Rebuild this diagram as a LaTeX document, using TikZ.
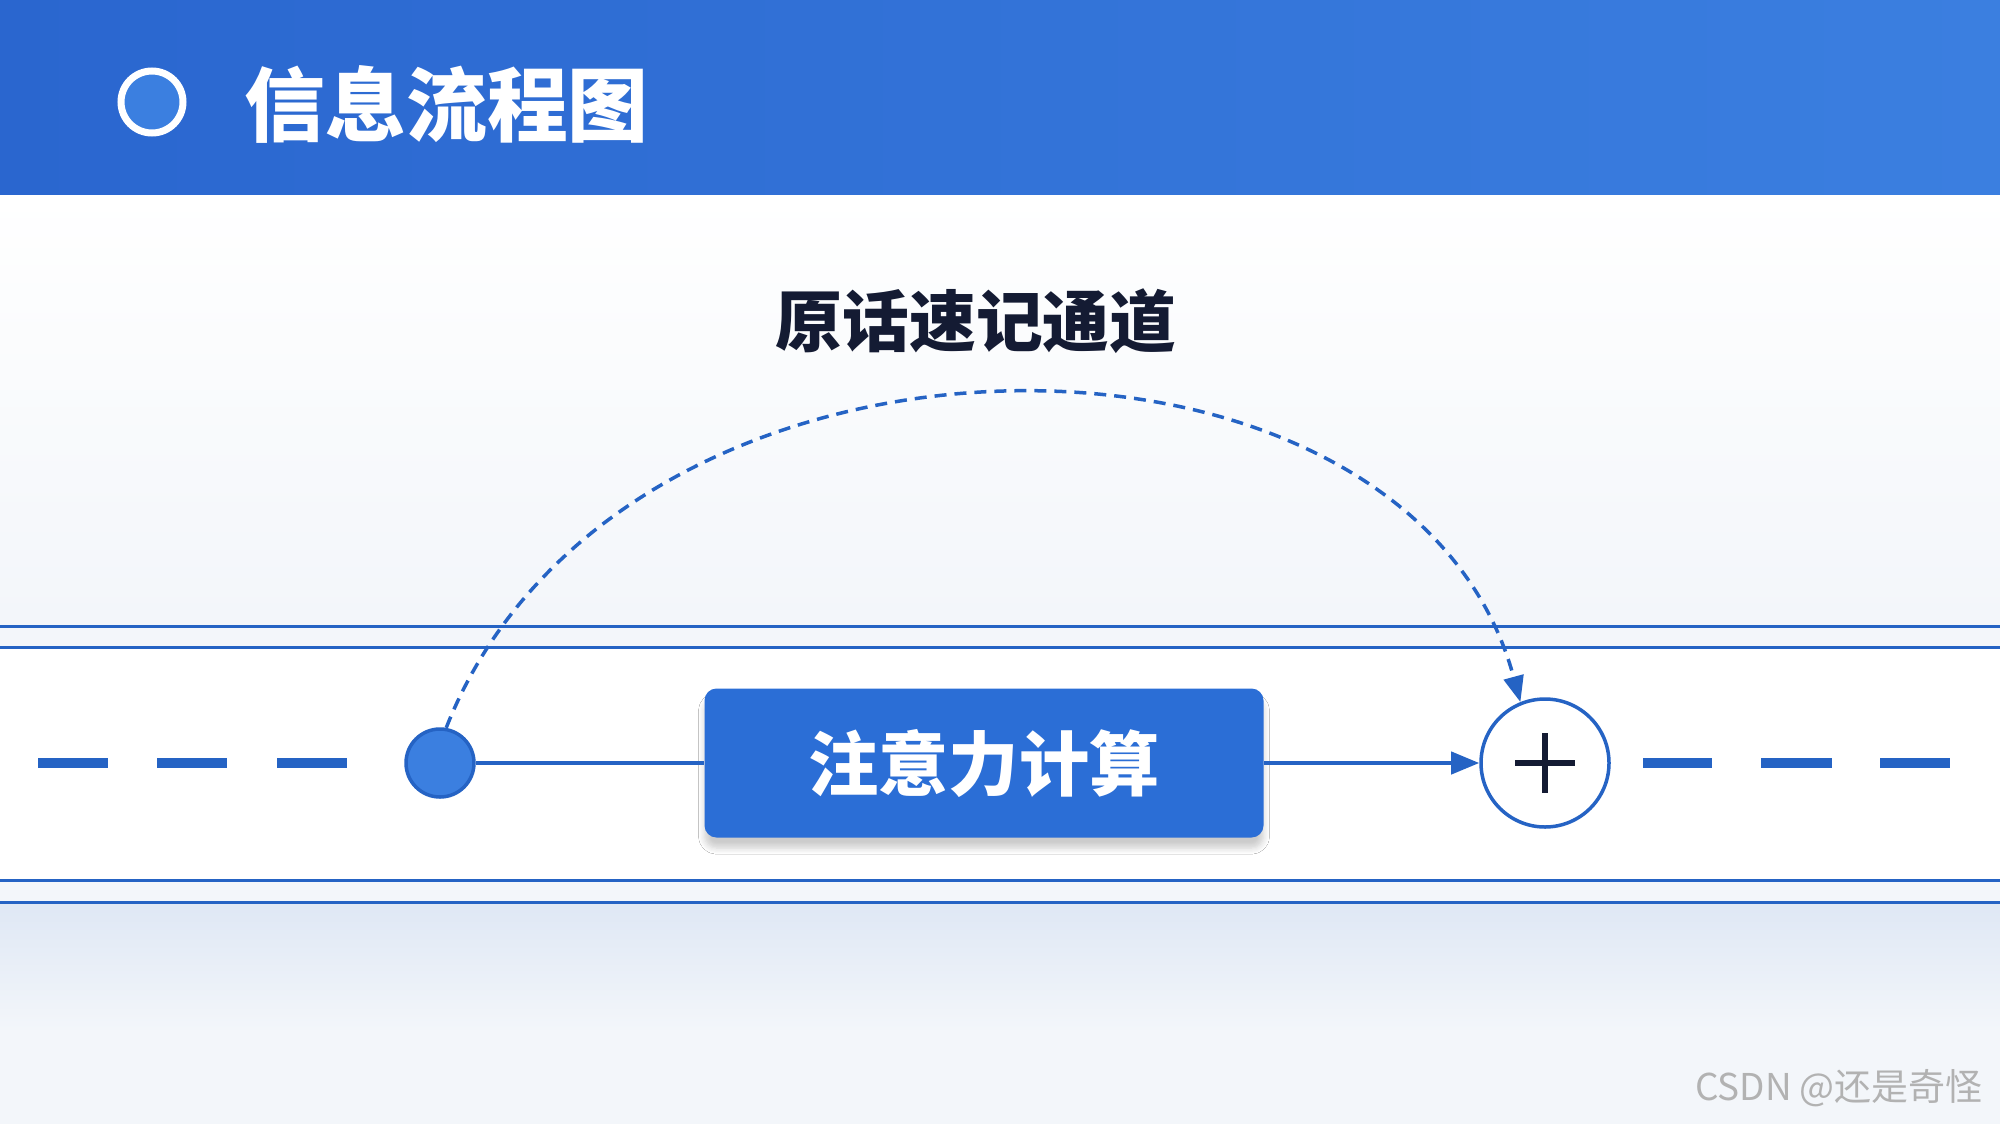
\documentclass[tikz,border=0pt]{standalone}
\usepackage{fontspec}
\newfontfamily\cjk{Noto Sans CJK SC}
\usetikzlibrary{arrows.meta,shadows.blur}
\definecolor{hdr}{HTML}{3B7FE0}
\definecolor{hdrb}{HTML}{2A66CF}
\definecolor{ln}{HTML}{2563C4}
\definecolor{boxc}{HTML}{2B6ED6}
\definecolor{bg}{HTML}{F3F6FA}
\definecolor{ink}{HTML}{141B33}
\newlength\pxu \setlength\pxu{0.01cm}
\tikzset{
 dashseg/.style={ln,line width=10\pxu},
 rail/.style={ln,line width=3\pxu},
}
\begin{document}
\begin{tikzpicture}[x=0.01cm,y=-0.01cm]
\useasboundingbox (0,0) rectangle (2000,1124);
\fill[bg] (0,0) rectangle (2000,1124);
\shade[top color=white,bottom color=bg] (0,194) rectangle (2000,620);
\fill[white] (0,647) rectangle (2000,880);
\shade[top color=ln!10!bg,bottom color=bg] (0,902) rectangle (2000,1030);
\shade[left color=hdrb,right color=hdr] (0,0) rectangle (2000,194);
% header
\node[circle,draw=white,line width=7\pxu,fill=hdr,minimum size=62\pxu,inner sep=0] (hc) at (152,102) {};
\node[anchor=west,text=white,font=\cjk\bfseries\fontsize{23}{27}\selectfont] (title) at (232,104) {信息流程图};
% rails
\draw[rail] (0,626) -- (2000,626);
\draw[rail] (0,647) -- (2000,647);
\draw[rail] (0,880) -- (2000,880);
\draw[rail] (0,902) -- (2000,902);
% dashes
\foreach \a/\b in {38/108,157/227,277/347,1643/1712,1761/1832,1880/1950}
  \draw[dashseg] (\a,763) -- (\b,763);
% nodes
\node[circle,draw=ln,line width=3.5\pxu,fill=hdr,minimum size=68\pxu,inner sep=0] (src) at (440,763) {};
\node[rounded corners=12\pxu,fill=boxc,minimum width=559\pxu,minimum height=149\pxu,text=white,
  font=\cjk\bfseries\fontsize{20}{24}\selectfont,blur shadow={shadow blur steps=6,shadow xshift=0pt,shadow yshift=-3pt,shadow opacity=20}] (attn) at (984,763) {注意力计算};
\node[circle,draw=ln,line width=3.5\pxu,fill=white,minimum size=128\pxu,inner sep=0] (add) at (1545,763) {};
\draw[ink,line width=6\pxu] (1515,763) -- (1575,763) (1545,733) -- (1545,793);
\node[text=ink,font=\cjk\bfseries\fontsize{19}{23}\selectfont] (lbl) at (976,321) {原话速记通道};
% connectors
\draw[ln,line width=4\pxu] (src) -- (attn);
\draw[ln,line width=4\pxu,-{Triangle[length=8pt,width=6.3pt]}] (attn) -- (add);
\draw[ln,line width=3.5\pxu,dash pattern=on 12\pxu off 8\pxu,-{Triangle[length=7.4pt,width=5.7pt]}]
  (src.80) .. controls (620,287) and (1408,287) .. (add.112);
\node[text=gray!60,font=\cjk\fontsize{10.5}{12}\selectfont,anchor=east] (wm) at (1995,1088) {CSDN @还是奇怪};
\end{tikzpicture}
\end{document}
